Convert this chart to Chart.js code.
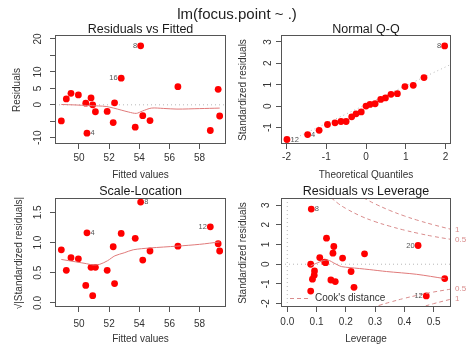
<!DOCTYPE html>
<html>
<head>
<meta charset="utf-8">
<script src="https://cdn.jsdelivr.net/npm/chart.js@4.4.1/dist/chart.umd.min.js"></script>
<style>
  body { margin: 0; background: #fff; }
  #wrap { position: relative; width: 474px; height: 352px; overflow: hidden;
          font-family: "Liberation Sans", Arial, sans-serif; color: #222; }
  #wrap canvas { position: absolute; left: 0; top: 0; }
  .lbl { position: absolute; white-space: nowrap; line-height: 1; transform: translate(-50%, -50%); }
  .rot { transform: translate(-50%, -50%) rotate(-90deg); }
  .main { font-size: 15px; }
  .ttl { font-size: 12.5px; color: #1a1a1a; }
  .ax { font-size: 10px; color: #333; }
</style>
</head>
<body>
<div id="wrap">
  <canvas id="c1" width="474" height="352"></canvas>
  <canvas id="c2" width="474" height="352"></canvas>
  <canvas id="c3" width="474" height="352"></canvas>
  <canvas id="c4" width="474" height="352"></canvas>

  <div class="lbl main" style="left:237px;top:13px">lm(focus.point ~ .)</div>

  <div class="lbl ttl" style="left:140.5px;top:29px">Residuals vs Fitted</div>
  <div class="lbl ax" style="left:140.5px;top:175px">Fitted values</div>
  <div class="lbl ax rot" style="left:17px;top:90px">Residuals</div>

  <div class="lbl ttl" style="left:366px;top:29px">Normal Q-Q</div>
  <div class="lbl ax" style="left:366px;top:175px">Theoretical Quantiles</div>
  <div class="lbl ax rot" style="left:243px;top:90px">Standardized residuals</div>

  <div class="lbl ttl" style="left:140.5px;top:191px">Scale-Location</div>
  <div class="lbl ax" style="left:140.5px;top:339px">Fitted values</div>
  <div class="lbl ax rot" style="left:19px;top:253px">√|Standardized residuals|</div>

  <div class="lbl ttl" style="left:366px;top:191px">Residuals vs Leverage</div>
  <div class="lbl ax" style="left:366px;top:339px">Leverage</div>
  <div class="lbl ax rot" style="left:243px;top:253px">Standardized residuals</div>
</div>

<script>
// ── values ────────────────────────────────────────────────────────────────────
const fitted     = [48.83, 49.16, 49.47, 49.96, 50.45, 50.53, 50.80, 50.91, 51.09, 51.87, 52.27,
                    52.36, 52.80, 53.73, 54.09, 54.23, 54.71, 56.56, 58.71, 59.23, 59.33];
const residuals  = [-4.9, 1.8, 3.5, 3.0, 0.5, -8.6, 2.1, 0.0, -2.1, -2.0, -5.4,
                    0.6, 8.1, -6.8, 17.9, -3.3, -4.8, 5.5, -7.8, 4.7, -3.4];
const sqrtStdRes = [0.88, 0.54, 0.75, 0.73, 0.29, 1.16, 0.59, 0.12, 0.59, 0.54, 0.93,
                    0.32, 1.15, 1.07, 1.67, 0.71, 0.86, 0.94, 1.26, 0.98, 0.86];
const fitIdsRes  = [14, 12, 5];          // points labelled in Residuals vs Fitted
const fitIdsResText = ['8', '16', '4'];
const fitIdsSL   = [14, 5, 18];          // points labelled in Scale-Location
const fitIdsSLText = ['8', '4', '12'];

const fitSmoothX = [48.83, 49.8, 50.5, 51.3, 51.8, 52.3, 52.8, 53.3, 53.8, 54.2, 54.8, 55.6, 56.5, 58.0, 59.33];
const fitSmoothY = [0.1, -0.05, -0.2, -0.35, -0.5, -1.0, -1.6, -2.2, -2.6, -1.9, -1.0, -1.1, -1.3, -1.15, -1.0];
const slSmoothX  = [48.83, 49.8, 50.5, 50.93, 51.38, 51.9, 52.38, 53.0, 53.6, 54.71, 56.49, 58.0, 59.33];
const slSmoothY  = [0.72, 0.68, 0.65, 0.63, 0.64, 0.70, 0.78, 0.83, 0.88, 0.91, 0.94, 0.97, 1.01];

const qqTheo = [-1.99, -1.47, -1.18, -0.97, -0.78, -0.63, -0.50, -0.36, -0.25, -0.12, 0.0,
                0.10, 0.23, 0.37, 0.49, 0.63, 0.79, 0.98, 1.19, 1.46, 1.98];
const qqStd  = [-1.56, -1.33, -1.13, -0.86, -0.78, -0.72, -0.72, -0.50, -0.36, -0.27, 0.0,
                0.08, 0.11, 0.31, 0.38, 0.55, 0.58, 0.91, 0.97, 1.33, 2.81];
const qqIds  = [20, 1, 0];
const qqIdsText = ['8', '4', '12'];
const qqLineX = [-2.3, 2.3];
const qqLineY = [-1.95, 2.09];

const leverage = [0.082, 0.134, 0.159, 0.111, 0.156, 0.189, 0.131, 0.080, 0.093, 0.092, 0.086,
                  0.080, 0.149, 0.164, 0.218, 0.228, 0.264, 0.447, 0.475, 0.538, 0.128];
const levStd   = [2.80, 1.32, 0.90, 0.34, 0.56, 0.31, 0.08, 0.0, -0.34, -0.56, -0.76,
                  -1.36, -0.80, -0.88, -0.37, -1.17, 0.53, 0.95, -1.61, -0.73, 0.11];
const levIds   = [0, 17, 18];
const levIdsText = ['8', '20', '12'];
const levSmoothX = [0.080, 0.095, 0.111, 0.125, 0.134, 0.145, 0.157, 0.170, 0.185, 0.214, 0.28, 0.339, 0.441, 0.538];
const levSmoothY = [-0.08, 0.02, 0.12, 0.19, 0.22, 0.18, 0.08, -0.02, -0.12, -0.17, -0.27, -0.37, -0.51, -0.73];

// Cook's distance contours (0.5 and 1)
const cook05UpX = [0.15, 0.175, 0.2, 0.25, 0.3, 0.35, 0.4, 0.45, 0.5, 0.56];
const cook05UpY = [3.37, 3.07, 2.83, 2.45, 2.16, 1.93, 1.73, 1.56, 1.41, 1.26];
const cook1UpX  = [0.26, 0.28, 0.3, 0.35, 0.4, 0.45, 0.5, 0.56];
const cook1UpY  = [3.37, 3.21, 3.06, 2.73, 2.45, 2.21, 2.0, 1.77];
const cook05DnX = [0.29, 0.32, 0.35, 0.4, 0.45, 0.5, 0.56];
const cook05DnY = [-2.21, -2.06, -1.93, -1.73, -1.56, -1.41, -1.26];
const cook1DnX  = [0.45, 0.5, 0.56];
const cook1DnY  = [-2.21, -2.0, -1.77];

// axis ranges and ticks
const fitRange = [48.41, 59.75];
const fitTicks = [50, 52, 54, 56, 58];
const resRange = [-11.9, 21.2];
const resTicks = [-10, -5, 0, 5, 10, 15, 20];
const resTickLabels = ['-10', '', '0', '5', '10', '', '20'];
const qqXRange = [-2.14, 2.14];
const qqXTicks = [-2, -1, 0, 1, 2];
const qqYRange = [-1.77, 3.32];
const qqYTicks = [-1, 0, 1, 2, 3];
const slRange = [-0.067, 1.737];
const slTicks = [0, 0.5, 1, 1.5];
const slTickLabels = ['0.0', '0.5', '1.0', '1.5'];
const levRange = [-0.0215, 0.5595];
const levTicks = [0, 0.1, 0.2, 0.3, 0.4, 0.5];
const levTickLabels = ['0.0', '0.1', '0.2', '0.3', '0.4', '0.5'];
const levYRange = [-2.17, 3.36];
const levYTicks = [-2, -1, 0, 1, 2, 3];

// ── helpers ───────────────────────────────────────────────────────────────────
const W = 474, H = 352, TICK = 6;
const FONT = '"Liberation Sans", Arial, sans-serif';
const RED = '#ff0000', SMOOTH = '#e07a7a', COOK = '#d98c8c', GREY = '#b8b8b8';

const pts = (xs, ys) => xs.map((x, i) => ({ x, y: ys[i] }));
const dots = (xs, ys) => ({ data: pts(xs, ys), pointRadius: 3.4, pointBackgroundColor: RED,
                             pointBorderWidth: 0, order: 2 });
const curve = (xs, ys, color, dash, order = 1, tension = 0) => ({
  data: pts(xs, ys), showLine: true, pointRadius: 0, borderColor: color, borderWidth: 1,
  borderDash: dash || [], tension, order, clip: 0
});

function axis(range, ticks, dir) {
  return {
    type: 'linear', min: range[0], max: range[1],
    afterBuildTicks: s => { s.ticks = ticks.map(v => ({ value: v })); },
    afterFit: s => { if (dir === 'x') s.height = TICK; else s.width = TICK; },
    ticks: { display: false },
    grid: { drawOnChartArea: false, drawTicks: true, tickLength: 5, color: '#555' },
    border: { display: false }
  };
}

// box, rotated R-style tick labels and point ids
function decor(p) {
  return {
    id: 'decor',
    afterDraw(chart) {
      const { ctx, chartArea: a, scales: { x, y } } = chart;
      ctx.save();
      ctx.strokeStyle = '#555';
      ctx.lineWidth = 1;
      ctx.strokeRect(Math.round(a.left) + 0.5, Math.round(a.top) + 0.5,
                     Math.round(a.right - a.left) - 1, Math.round(a.bottom - a.top) - 1);

      ctx.fillStyle = '#333';
      ctx.font = '10px ' + FONT;
      ctx.textAlign = 'center';
      ctx.textBaseline = 'middle';
      p.xTicks.forEach((v, i) => ctx.fillText(p.xLabels[i], x.getPixelForValue(v), p.xTickY));
      p.yTicks.forEach((v, i) => {
        if (!p.yLabels[i]) return;
        ctx.save();
        ctx.translate(p.yTickX, y.getPixelForValue(v));
        ctx.rotate(-Math.PI / 2);
        ctx.fillText(p.yLabels[i], 0, 0);
        ctx.restore();
      });

      // R puts ids right of the point, or left when it is in the upper half of the labelled range
      const idx = p.ids.map(i => p.idX[i]);
      const mid = (Math.min(...idx) + Math.max(...idx)) / 2;
      ctx.font = '7.5px ' + FONT;
      ctx.fillStyle = '#555';
      p.ids.forEach((i, k) => {
        const left = p.idX[i] > mid;
        ctx.textAlign = left ? 'right' : 'left';
        ctx.fillText(p.idText[k], x.getPixelForValue(p.idX[i]) + (left ? -3.5 : 3.5),
                     y.getPixelForValue(p.idY[i]));
      });

      if (p.extra) p.extra(chart, ctx);
      ctx.restore();
    }
  };
}

function makePanel(id, box, p) {
  return new Chart(document.getElementById(id), {
    type: 'scatter',
    data: { datasets: p.datasets },
    options: {
      responsive: false, animation: false, devicePixelRatio: 1,
      layout: { padding: { left: box.l - TICK, right: W - box.r, top: box.t, bottom: H - box.b - TICK } },
      plugins: { legend: { display: false }, tooltip: { enabled: false } },
      scales: { x: axis(p.xRange, p.xTicks, 'x'), y: axis(p.yRange, p.yTicks, 'y') }
    },
    plugins: [decor(p)]
  });
}

// ── Residuals vs Fitted ───────────────────────────────────────────────────────
makePanel('c1', { l: 55, r: 226, t: 35, b: 144 }, {
  xRange: fitRange, xTicks: fitTicks, xLabels: fitTicks.map(String), xTickY: 158,
  yRange: resRange, yTicks: resTicks, yLabels: resTickLabels, yTickX: 38,
  idX: fitted, idY: residuals, ids: fitIdsRes, idText: fitIdsResText,
  datasets: [
    curve(fitRange, [0, 0], GREY, [1, 3], 3),
    dots(fitted, residuals),
    curve(fitSmoothX, fitSmoothY, SMOOTH, [], 1, 0.3)
  ]
});

// ── Normal Q-Q ────────────────────────────────────────────────────────────────
makePanel('c2', { l: 281, r: 451, t: 35, b: 144 }, {
  xRange: qqXRange, xTicks: qqXTicks, xLabels: qqXTicks.map(String), xTickY: 157,
  yRange: qqYRange, yTicks: qqYTicks, yLabels: qqYTicks.map(String), yTickX: 268,
  idX: qqTheo, idY: qqStd, ids: qqIds, idText: qqIdsText,
  datasets: [
    { ...curve(qqLineX, qqLineY, GREY, [1, 3], 3), clip: { left: 0, right: 0, top: 0, bottom: 0 } },
    dots(qqTheo, qqStd)
  ]
});

// ── Scale-Location ────────────────────────────────────────────────────────────
makePanel('c3', { l: 55, r: 226, t: 198, b: 307 }, {
  xRange: fitRange, xTicks: fitTicks, xLabels: fitTicks.map(String), xTickY: 324,
  yRange: slRange, yTicks: slTicks, yLabels: slTickLabels, yTickX: 38,
  idX: fitted, idY: sqrtStdRes, ids: fitIdsSL, idText: fitIdsSLText,
  datasets: [
    dots(fitted, sqrtStdRes),
    curve(slSmoothX, slSmoothY, SMOOTH, [], 1, 0.3)
  ]
});

// ── Residuals vs Leverage ─────────────────────────────────────────────────────
makePanel('c4', { l: 281, r: 451, t: 198, b: 307 }, {
  xRange: levRange, xTicks: levTicks, xLabels: levTickLabels, xTickY: 322,
  yRange: levYRange, yTicks: levYTicks, yLabels: levYTicks.map(String), yTickX: 266,
  idX: leverage, idY: levStd, ids: levIds, idText: levIdsText,
  datasets: [
    curve(levRange, [0, 0], GREY, [1, 3], 3),
    curve([0, 0], levYRange, GREY, [1, 3], 3),
    curve(cook05UpX, cook05UpY, COOK, [4, 3], 1, 0.4),
    curve(cook1UpX, cook1UpY, COOK, [4, 3], 1, 0.4),
    curve(cook05DnX, cook05DnY, COOK, [4, 3], 1, 0.4),
    curve(cook1DnX, cook1DnY, COOK, [4, 3], 1, 0.4),
    dots(leverage, levStd),
    curve(levSmoothX, levSmoothY, SMOOTH, [], 1, 0.3)
  ],
  extra(chart, ctx) {
    const { chartArea: a, scales: { y } } = chart;
    ctx.font = '8px ' + FONT;
    ctx.fillStyle = COOK;
    ctx.textAlign = 'left';
    ctx.textBaseline = 'middle';
    [[cook1UpY, '1'], [cook05UpY, '0.5'], [cook05DnY, '0.5'], [cook1DnY, '1']].forEach(([ys, t]) =>
      ctx.fillText(t, a.right + 4, y.getPixelForValue(ys[ys.length - 1])));

    // legend, bottom left
    const ly = a.bottom - 9;
    ctx.strokeStyle = COOK;
    ctx.setLineDash([4, 3]);
    ctx.beginPath();
    ctx.moveTo(a.left + 9, ly + 0.5);
    ctx.lineTo(a.left + 28, ly + 0.5);
    ctx.stroke();
    ctx.setLineDash([]);
    ctx.font = '10px ' + FONT;
    ctx.fillStyle = '#333';
    ctx.fillText("Cook's distance", a.left + 34, ly);
  }
});
</script>
</body>
</html>
